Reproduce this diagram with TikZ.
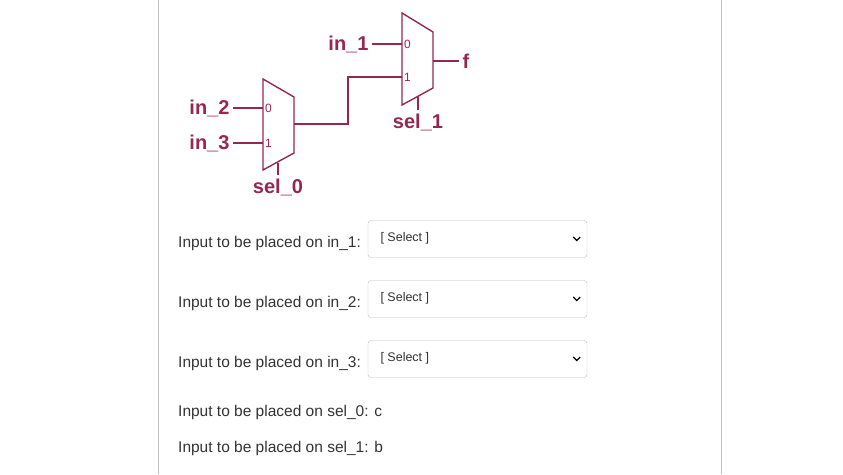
\documentclass[tikz,border=0pt]{standalone}
\usepackage{fontspec}
\setmainfont{Liberation Sans}
\usetikzlibrary{positioning,calc}
\definecolor{wine}{RGB}{150,38,82}
\definecolor{frame}{RGB}{190,190,190}
\begin{document}
\begin{tikzpicture}[x=1pt,y=-1pt,
  wire/.style={draw=wine,line width=1.4pt},
  muxbox/.style={draw=wine,line width=1.4pt},
  sig/.style={text=wine,font=\fontsize{20}{22}\selectfont\bfseries},
  pin/.style={text=wine,font=\fontsize{12}{14}\selectfont,inner sep=0pt},
  form/.style={font=\fontsize{15.5}{17}\selectfont,text=black!80,anchor=west,inner sep=0pt},
  selbox/.style={draw=frame,rounded corners=3pt,minimum width=219pt,minimum height=37pt}
]
\useasboundingbox (0,0) rectangle (843,474);
\draw[frame] (158,0) -- (158,474) (721,0) -- (721,474);

% --- multiplexers ---------------------------------------------
\draw[muxbox] (263,79) -- (294,97) -- (294,153) -- (263,170) -- cycle;
\draw[muxbox] (402,13) -- (433,32) -- (433,88) -- (402,105) -- cycle;
\coordinate (m0a) at (263,108);
\coordinate (m0b) at (263,143);
\coordinate (m0out) at (294,124);
\coordinate (m0sel) at (278,163);
\coordinate (m1a) at (402,44);
\coordinate (m1b) at (402,77);
\coordinate (m1out) at (433,61);
\coordinate (m1sel) at (418,97);
\node[pin,right=2pt of m0a] {0};
\node[pin,right=2pt of m0b] {1};
\node[pin,right=2pt of m1a] {0};
\node[pin,right=2pt of m1b] {1};

% --- signals --------------------------------------------------
\node[sig,anchor=east] (in2) at (233,108) {in\_2};
\node[sig,anchor=east] (in3) at (233,143) {in\_3};
\node[sig,anchor=east] (in1) at (372,44) {in\_1};
\node[sig,anchor=west] (f) at (459,61) {f};
\node[sig,anchor=north] (s1) at (418,110) {sel\_1};
\node[sig,anchor=north] (s0) at (278,175) {sel\_0};

\draw[wire] (in2) -- (m0a);
\draw[wire] (in3) -- (m0b);
\draw[wire] (in1) -- (m1a);
\draw[wire] (m1out) -- (f);
\draw[wire] (m0sel) -- (s0);
\draw[wire] (m1sel) -- (s1);
\draw[wire] (m0out) -| (348,77) -- (m1b);

% --- form -----------------------------------------------------
\foreach \n/\y in {1/243,2/303,3/363}{
  \node[form] (q\n) at (178,\y) {Input to be placed on in\_\n:};
  \node[selbox] (b\n) at (477.5,\y-4) {};
  \node[font=\fontsize{12.5}{14}\selectfont,anchor=west,text=black!80] at (377,\y-5) {[ Select ]};
  \draw[line width=1.2pt] ($(b\n.east)+(-14,-2)$) -- ++(3.5,3.5) -- ++(3.5,-3.5);
}
\node[form] (s0q) at (178,412) {Input to be placed on sel\_0: c};
\node[form] (s1q) at (178,448) {Input to be placed on sel\_1: b};
\end{tikzpicture}
\end{document}
